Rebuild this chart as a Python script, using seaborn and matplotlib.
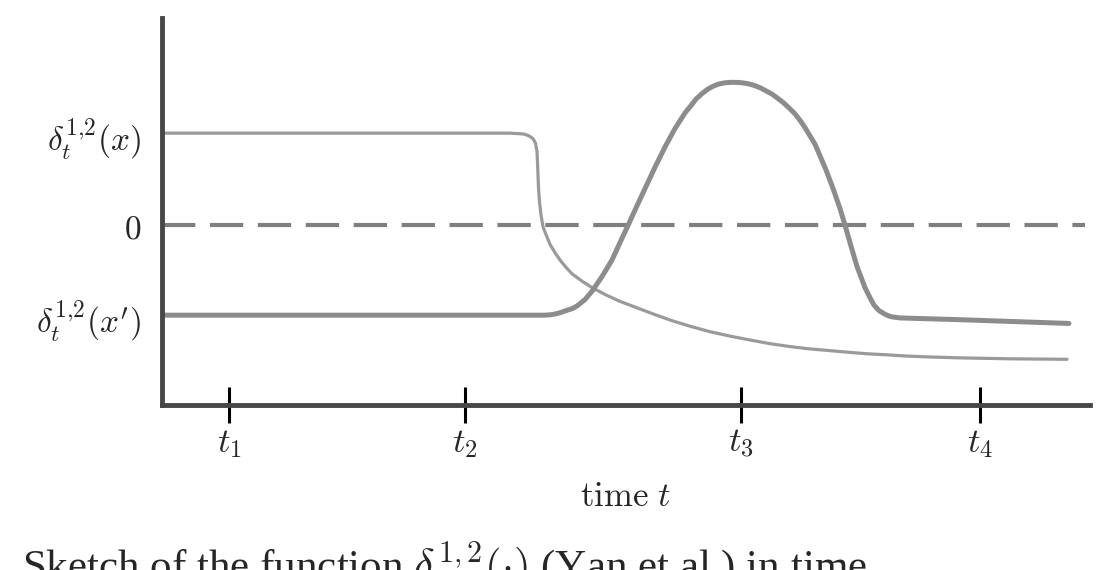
import numpy as np
import pandas as pd
import seaborn as sns
import matplotlib.pyplot as plt

# schematic: two curves over time
# curve for x (thin line) - time / value
time_x = [0.00, 3.48, 3.56, 3.62, 3.67, 3.71, 3.735, 3.75, 3.755, 3.76, 3.765, 3.775, 3.79,
          3.81, 3.85, 3.88, 3.93, 3.98, 4.04, 4.10, 4.20, 4.30, 4.44, 4.58, 4.75, 4.92,
          5.10, 5.28, 5.48, 5.69, 5.88, 6.08, 6.27, 6.46, 6.67, 6.88, 7.05, 7.23, 7.45,
          7.68, 8.00, 8.50, 9.05]
delta_x = [1.00, 1.00, 0.995, 0.99, 0.97, 0.94, 0.89, 0.80, 0.68, 0.54, 0.40, 0.25, 0.11,
           -0.02, -0.13, -0.21, -0.30, -0.38, -0.46, -0.53, -0.61, -0.68, -0.76, -0.83, -0.90, -0.97,
           -1.04, -1.10, -1.16, -1.21, -1.25, -1.29, -1.32, -1.345, -1.365, -1.385, -1.40, -1.41, -1.425,
           -1.435, -1.445, -1.455, -1.46]

# curve for x' (thick line)
time_xp = [0.00, 3.83, 3.89, 3.94, 3.99, 4.04, 4.10, 4.15, 4.23, 4.30, 4.40, 4.50, 4.58,
           4.67, 4.75, 4.84, 4.93, 5.03, 5.13, 5.23, 5.29, 5.34, 5.40, 5.46, 5.52, 5.57,
           5.63, 5.69, 5.75, 5.80, 5.86, 5.92, 5.98, 6.04, 6.10, 6.15, 6.21, 6.27, 6.33,
           6.38, 6.43, 6.48, 6.53, 6.57, 6.64, 6.71, 6.78, 6.83, 6.88, 6.95, 7.03, 7.08,
           7.12, 7.17, 7.23, 7.27, 7.31, 7.38, 8.00, 9.07]
delta_xp = [-0.98, -0.98, -0.975, -0.965, -0.95, -0.93, -0.91, -0.88, -0.81, -0.72, -0.56, -0.38, -0.19,
            0.02, 0.21, 0.42, 0.63, 0.85, 1.05, 1.22, 1.30, 1.37, 1.43, 1.48, 1.515, 1.535,
            1.548, 1.553, 1.552, 1.548, 1.538, 1.52, 1.495, 1.46, 1.425, 1.385, 1.335, 1.275, 1.21,
            1.14, 1.06, 0.97, 0.88, 0.78, 0.60, 0.40, 0.18, 0.00, -0.19, -0.45, -0.68, -0.79,
            -0.87, -0.93, -0.97, -0.99, -1.00, -1.01, -1.03, -1.07]

tick_times = [0.67, 3.03, 5.79, 8.18]
tick_labels = [r"$t_1$", r"$t_2$", r"$t_3$", r"$t_4$"]
level_values = [1.0, 0.0, -0.98]
level_labels = [r"$\delta_t^{1{,}2}(x)$", r"$0$", r"$\delta_t^{1{,}2}(x')$"]

sns.set_style("white")
plt.rcParams['mathtext.fontset'] = 'cm'
plt.rcParams['font.family'] = ['DejaVu Sans']

fig = plt.figure(figsize=(11.13, 5.70), dpi=100)
ax = fig.add_axes([0.1456, 0.2895, 0.9793 - 0.1456, 0.968 - 0.2895])

df_x = pd.DataFrame({'time': time_x, 'delta': delta_x})
df_xp = pd.DataFrame({'time': time_xp, 'delta': delta_xp})

# zero line
ax.axhline(0, xmin=0, xmax=0.995, color='#7f7f7f', lw=3.0, dashes=(8, 3.5))

sns.lineplot(data=df_x, x='time', y='delta', ax=ax, estimator=None, sort=False,
             color='#9a9a9a', lw=2.3)
sns.lineplot(data=df_xp, x='time', y='delta', ax=ax, estimator=None, sort=False,
             color='#8c8c8c', lw=3.6)

ax.set_xlim(0, 9.28)
ax.set_ylim(-1.957, 2.25)

for side in ['top', 'right']:
    ax.spines[side].set_visible(False)
for side in ['left', 'bottom']:
    ax.spines[side].set_color('#474747')
    ax.spines[side].set_linewidth(3.5)

ax.set_xticks(tick_times)
ax.set_xticklabels(tick_labels, fontsize=25)
ax.tick_params(axis='x', bottom=True, direction='inout', length=26, width=2.2,
               color='black', pad=2)
ax.set_yticks(level_values)
ax.set_yticklabels(level_labels, fontsize=24)
ax.tick_params(axis='y', left=False, length=0, pad=15)

ax.set_xlabel(r"$\mathrm{time}\ t$", fontsize=25, labelpad=14)
ax.set_ylabel('')

# caption, cut off at the bottom of the picture
fig.text(22 / 1113, 0.052, r"Sketch of the function $\delta^{1,2}(\cdot)$ (Yan et al.) in time",
         fontsize=31, family='Liberation Serif', va='top', ha='left')

fig.savefig('out.png', dpi=100)
